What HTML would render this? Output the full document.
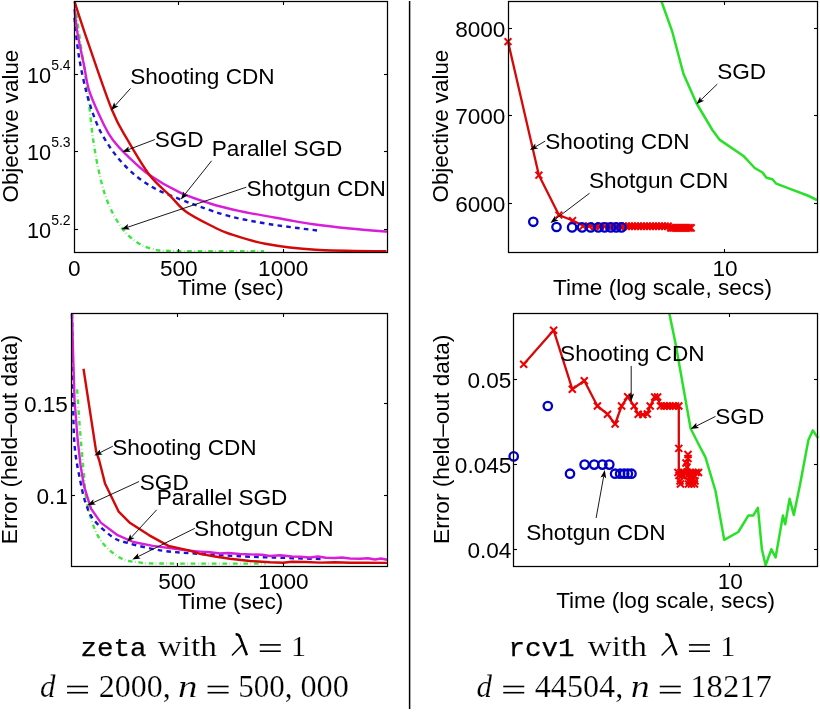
<!DOCTYPE html><html><head><meta charset="utf-8"><style>html,body{margin:0;padding:0;background:#fff;overflow:hidden}svg{display:block;will-change:transform}</style></head><body>
<svg width="820" height="714" viewBox="0 0 820 714">
<rect width="820" height="714" fill="#fff"/>
<line x1="409.6" y1="1" x2="409.6" y2="709" stroke="#000" stroke-width="1.5"/>
<path d="M75.0,3.0 C75.8,9.2 77.9,25.2 80.0,40.0 C82.1,54.8 85.4,75.0 87.6,91.7 C89.8,108.4 91.1,125.9 93.2,140.0 C95.3,154.1 97.5,165.8 100.0,176.5 C102.5,187.2 105.0,195.7 108.5,204.0 C112.0,212.3 116.3,220.1 120.7,226.3 C125.1,232.5 129.8,237.2 135.0,241.0 C140.2,244.8 145.3,247.1 152.0,248.8 C158.7,250.5 156.3,250.6 175.0,251.0 C193.7,251.4 249.2,251.2 264.0,251.3" fill="none" stroke="#3ce63c" stroke-width="2.4" stroke-linejoin="round" stroke-dasharray="4.6,2.6,0.5,2.8"/>
<path d="M74.5,18.0 C75.2,24.2 76.7,42.5 78.7,55.0 C80.7,67.5 83.6,81.6 86.6,93.0 C89.6,104.4 93.4,115.4 96.7,123.4 C100.0,131.5 102.9,135.9 106.2,141.3 C109.5,146.7 112.6,151.2 116.3,155.9 C120.0,160.6 124.3,165.2 128.6,169.3 C132.9,173.4 137.2,177.1 142.1,180.5 C147.0,183.9 151.5,186.9 157.8,190.0 C164.1,193.1 173.1,196.5 180.1,199.3 C187.1,202.1 191.7,203.8 200.0,206.6 C208.3,209.4 218.3,213.4 230.0,216.3 C241.7,219.2 254.8,221.8 270.0,224.2 C285.2,226.6 312.5,229.9 321.0,231.0" fill="none" stroke="#1414d2" stroke-width="2.4" stroke-linejoin="round" stroke-dasharray="4.6,4.2"/>
<path d="M74.5,9.0 C75.0,13.3 76.2,25.7 77.8,35.0 C79.4,44.3 82.0,55.5 84.0,65.0 C86.0,74.5 86.2,81.7 89.5,91.7 C92.8,101.7 100.1,117.0 104.0,125.0 C107.9,133.1 109.2,135.1 112.9,140.0 C116.6,144.9 120.0,148.8 126.1,154.6 C132.2,160.4 140.5,168.8 149.5,175.1 C158.5,181.4 170.1,188.0 180.2,192.7 C190.3,197.4 200.0,200.4 210.0,203.5 C220.0,206.6 227.4,208.4 240.0,211.1 C252.6,213.8 273.2,217.3 285.4,219.5 C297.6,221.7 302.4,222.8 313.2,224.3 C324.0,225.8 337.7,227.3 350.0,228.5 C362.3,229.7 380.8,231.1 387.0,231.6" fill="none" stroke="#d81ed8" stroke-width="2.4" stroke-linejoin="round"/>
<path d="M74.5,1.5 C76.8,8.6 82.2,25.8 88.5,43.9 C94.8,62.0 105.5,94.0 112.0,110.0 C118.5,126.0 121.3,129.2 127.6,140.0 C133.8,150.8 142.4,165.8 149.5,175.1 C156.6,184.4 163.9,189.5 170.0,195.6 C176.1,201.7 179.0,206.6 186.1,211.7 C193.2,216.8 205.1,222.6 212.4,226.3 C219.7,230.0 221.2,231.1 230.0,234.0 C238.8,236.9 250.9,241.1 265.2,243.7 C279.4,246.3 295.3,248.5 315.5,249.8 C335.7,251.1 374.7,251.1 386.5,251.3" fill="none" stroke="#d40808" stroke-width="2.4" stroke-linejoin="round"/>
<rect x="74.5" y="1.5" width="313.0" height="251.0" fill="none" stroke="#000" stroke-width="1.25"/>
<line x1="74.5" y1="74.5" x2="78.0" y2="74.5" stroke="#000" stroke-width="1.1"/>
<line x1="387.5" y1="74.5" x2="384.0" y2="74.5" stroke="#000" stroke-width="1.1"/>
<line x1="74.5" y1="151.5" x2="78.0" y2="151.5" stroke="#000" stroke-width="1.1"/>
<line x1="387.5" y1="151.5" x2="384.0" y2="151.5" stroke="#000" stroke-width="1.1"/>
<line x1="74.5" y1="229.5" x2="78.0" y2="229.5" stroke="#000" stroke-width="1.1"/>
<line x1="387.5" y1="229.5" x2="384.0" y2="229.5" stroke="#000" stroke-width="1.1"/>
<line x1="178.5" y1="1.5" x2="178.5" y2="5.0" stroke="#000" stroke-width="1.1"/>
<line x1="178.5" y1="252.5" x2="178.5" y2="249.0" stroke="#000" stroke-width="1.1"/>
<line x1="283.5" y1="1.5" x2="283.5" y2="5.0" stroke="#000" stroke-width="1.1"/>
<line x1="283.5" y1="252.5" x2="283.5" y2="249.0" stroke="#000" stroke-width="1.1"/>
<text x="27.0" y="83.4" font-size="21.8" text-anchor="start" font-family="Liberation Sans, sans-serif" >10</text>
<text x="51.2" y="69.5" font-size="14" text-anchor="start" font-family="Liberation Sans, sans-serif" >5.4</text>
<text x="27.0" y="160.4" font-size="21.8" text-anchor="start" font-family="Liberation Sans, sans-serif" >10</text>
<text x="51.2" y="146.5" font-size="14" text-anchor="start" font-family="Liberation Sans, sans-serif" >5.3</text>
<text x="27.0" y="238.4" font-size="21.8" text-anchor="start" font-family="Liberation Sans, sans-serif" >10</text>
<text x="51.2" y="224.5" font-size="14" text-anchor="start" font-family="Liberation Sans, sans-serif" >5.2</text>
<text x="74.2" y="276.3" font-size="22.6" text-anchor="middle" font-family="Liberation Sans, sans-serif" >0</text>
<text x="178.8" y="276.3" font-size="22.6" text-anchor="middle" font-family="Liberation Sans, sans-serif" >500</text>
<text x="283.2" y="276.3" font-size="22.6" text-anchor="middle" font-family="Liberation Sans, sans-serif" >1000</text>
<text x="230.75" y="295" font-size="22.6" text-anchor="middle" font-family="Liberation Sans, sans-serif" >Time (sec)</text>
<text x="0" y="0" font-size="22.35" text-anchor="middle" font-family="Liberation Sans, sans-serif" transform="translate(18,126.1) rotate(-90)">Objective value</text>
<text x="130.2" y="83.5" font-size="22.6" text-anchor="start" font-family="Liberation Sans, sans-serif" >Shooting CDN</text>
<text x="154.7" y="147.4" font-size="22.6" text-anchor="start" font-family="Liberation Sans, sans-serif" >SGD</text>
<text x="211.8" y="155.8" font-size="22.6" text-anchor="start" font-family="Liberation Sans, sans-serif" >Parallel SGD</text>
<text x="246.5" y="195.7" font-size="22.6" text-anchor="start" font-family="Liberation Sans, sans-serif" >Shotgun CDN</text>
<line x1="130.5" y1="88.4" x2="115.2" y2="105.5" stroke="#000" stroke-width="0.9"/>
<path d="M111.0,110.2 L114.2,102.3 L115.2,105.5 L118.5,106.2 Z" fill="#000"/>
<line x1="154.9" y1="139.5" x2="128.2" y2="149.7" stroke="#000" stroke-width="0.9"/>
<path d="M122.3,152.0 L128.7,146.4 L128.2,149.7 L130.8,151.8 Z" fill="#000"/>
<line x1="211.6" y1="160.8" x2="184.7" y2="194.6" stroke="#000" stroke-width="0.9"/>
<path d="M180.8,199.5 L183.5,191.4 L184.7,194.6 L188.1,195.0 Z" fill="#000"/>
<line x1="246.3" y1="187.2" x2="127.4" y2="227.3" stroke="#000" stroke-width="0.9"/>
<path d="M121.4,229.3 L128.1,224.0 L127.4,227.3 L129.9,229.5 Z" fill="#000"/>
<polyline points="661.5,1.5 672.0,30.8 683.5,74.0 696.6,103.5 712.4,130.0 719.4,139.6 743.9,156.3 754.7,168.0 762.5,172.5 766.5,177.8 772.4,179.2 776.3,183.7 792.0,189.6 807.6,195.5 817.0,200.0" fill="none" stroke="#28e028" stroke-width="2.5" stroke-linejoin="round" />
<polyline points="508.0,41.6 538.9,175.2 558.9,215.0 572.6,220.5 583.0,225.5 600.0,226.5 640.0,227.0 691.0,227.5" fill="none" stroke="#d80808" stroke-width="2.3" stroke-linejoin="round" />
<path d="M504.6,38.2 L511.4,45.0 M504.6,45.0 L511.4,38.2" stroke="#f00000" stroke-width="2.0"/>
<path d="M535.5,171.8 L542.3,178.6 M535.5,178.6 L542.3,171.8" stroke="#f00000" stroke-width="2.0"/>
<path d="M555.5,211.6 L562.3,218.4 M555.5,218.4 L562.3,211.6" stroke="#f00000" stroke-width="2.0"/>
<path d="M569.2,217.1 L576.0,223.9 M569.2,223.9 L576.0,217.1" stroke="#f00000" stroke-width="2.0"/>
<path d="M579.4,222.6 L586.6,229.8 M579.4,229.8 L586.6,222.6" stroke="#f00000" stroke-width="2.0"/>
<path d="M585.4,222.6 L592.6,229.8 M585.4,229.8 L592.6,222.6" stroke="#f00000" stroke-width="2.0"/>
<path d="M591.4,222.6 L598.6,229.8 M591.4,229.8 L598.6,222.6" stroke="#f00000" stroke-width="2.0"/>
<path d="M596.4,222.6 L603.6,229.8 M596.4,229.8 L603.6,222.6" stroke="#f00000" stroke-width="2.0"/>
<path d="M601.4,222.6 L608.6,229.8 M601.4,229.8 L608.6,222.6" stroke="#f00000" stroke-width="2.0"/>
<path d="M605.4,222.6 L612.6,229.8 M605.4,229.8 L612.6,222.6" stroke="#f00000" stroke-width="2.0"/>
<path d="M609.4,222.6 L616.6,229.8 M609.4,229.8 L616.6,222.6" stroke="#f00000" stroke-width="2.0"/>
<path d="M613.4,222.6 L620.6,229.8 M613.4,229.8 L620.6,222.6" stroke="#f00000" stroke-width="2.0"/>
<path d="M616.4,222.6 L623.6,229.8 M616.4,229.8 L623.6,222.6" stroke="#f00000" stroke-width="2.0"/>
<path d="M619.4,222.6 L626.6,229.8 M619.4,229.8 L626.6,222.6" stroke="#f00000" stroke-width="2.0"/>
<path d="M622.4,222.6 L629.6,229.8 M622.4,229.8 L629.6,222.6" stroke="#f00000" stroke-width="2.0"/>
<path d="M625.4,222.6 L632.6,229.8 M625.4,229.8 L632.6,222.6" stroke="#f00000" stroke-width="2.0"/>
<path d="M628.4,222.6 L635.6,229.8 M628.4,229.8 L635.6,222.6" stroke="#f00000" stroke-width="2.0"/>
<path d="M631.4,222.6 L638.6,229.8 M631.4,229.8 L638.6,222.6" stroke="#f00000" stroke-width="2.0"/>
<path d="M634.4,222.6 L641.6,229.8 M634.4,229.8 L641.6,222.6" stroke="#f00000" stroke-width="2.0"/>
<path d="M637.4,222.6 L644.6,229.8 M637.4,229.8 L644.6,222.6" stroke="#f00000" stroke-width="2.0"/>
<path d="M640.4,222.6 L647.6,229.8 M640.4,229.8 L647.6,222.6" stroke="#f00000" stroke-width="2.0"/>
<path d="M643.4,222.6 L650.6,229.8 M643.4,229.8 L650.6,222.6" stroke="#f00000" stroke-width="2.0"/>
<path d="M646.4,222.6 L653.6,229.8 M646.4,229.8 L653.6,222.6" stroke="#f00000" stroke-width="2.0"/>
<path d="M649.4,222.6 L656.6,229.8 M649.4,229.8 L656.6,222.6" stroke="#f00000" stroke-width="2.0"/>
<path d="M652.4,222.6 L659.6,229.8 M652.4,229.8 L659.6,222.6" stroke="#f00000" stroke-width="2.0"/>
<path d="M655.4,222.6 L662.6,229.8 M655.4,229.8 L662.6,222.6" stroke="#f00000" stroke-width="2.0"/>
<path d="M658.4,222.6 L665.6,229.8 M658.4,229.8 L665.6,222.6" stroke="#f00000" stroke-width="2.0"/>
<path d="M661.4,222.6 L668.6,229.8 M661.4,229.8 L668.6,222.6" stroke="#f00000" stroke-width="2.0"/>
<path d="M664.4,222.6 L671.6,229.8 M664.4,229.8 L671.6,222.6" stroke="#f00000" stroke-width="2.0"/>
<path d="M667.4,224.3 L674.6,231.5 M667.4,231.5 L674.6,224.3" stroke="#f00000" stroke-width="2.0"/>
<path d="M669.4,224.3 L676.6,231.5 M669.4,231.5 L676.6,224.3" stroke="#f00000" stroke-width="2.0"/>
<path d="M671.4,224.3 L678.6,231.5 M671.4,231.5 L678.6,224.3" stroke="#f00000" stroke-width="2.0"/>
<path d="M673.4,224.3 L680.6,231.5 M673.4,231.5 L680.6,224.3" stroke="#f00000" stroke-width="2.0"/>
<path d="M675.4,224.3 L682.6,231.5 M675.4,231.5 L682.6,224.3" stroke="#f00000" stroke-width="2.0"/>
<path d="M677.4,224.3 L684.6,231.5 M677.4,231.5 L684.6,224.3" stroke="#f00000" stroke-width="2.0"/>
<path d="M679.4,224.3 L686.6,231.5 M679.4,231.5 L686.6,224.3" stroke="#f00000" stroke-width="2.0"/>
<path d="M681.4,224.3 L688.6,231.5 M681.4,231.5 L688.6,224.3" stroke="#f00000" stroke-width="2.0"/>
<path d="M683.4,224.3 L690.6,231.5 M683.4,231.5 L690.6,224.3" stroke="#f00000" stroke-width="2.0"/>
<path d="M685.4,224.3 L692.6,231.5 M685.4,231.5 L692.6,224.3" stroke="#f00000" stroke-width="2.0"/>
<path d="M687.4,224.3 L694.6,231.5 M687.4,231.5 L694.6,224.3" stroke="#f00000" stroke-width="2.0"/>
<circle cx="533.3" cy="221.8" r="4.2" fill="none" stroke="#0000c8" stroke-width="2.3"/>
<circle cx="556.5" cy="227" r="4.2" fill="none" stroke="#0000c8" stroke-width="2.3"/>
<circle cx="572.1" cy="227.4" r="4.2" fill="none" stroke="#0000c8" stroke-width="2.3"/>
<circle cx="582.1" cy="227.4" r="4.2" fill="none" stroke="#0000c8" stroke-width="2.3"/>
<circle cx="590.7" cy="227.4" r="4.2" fill="none" stroke="#0000c8" stroke-width="2.3"/>
<circle cx="598.3" cy="227.4" r="4.2" fill="none" stroke="#0000c8" stroke-width="2.3"/>
<circle cx="604.6" cy="227.4" r="4.2" fill="none" stroke="#0000c8" stroke-width="2.3"/>
<circle cx="610.8" cy="227.4" r="4.2" fill="none" stroke="#0000c8" stroke-width="2.3"/>
<circle cx="616.2" cy="227.4" r="4.2" fill="none" stroke="#0000c8" stroke-width="2.3"/>
<circle cx="621.5" cy="227.4" r="4.2" fill="none" stroke="#0000c8" stroke-width="2.3"/>
<rect x="508.5" y="1.5" width="309.0" height="251.0" fill="none" stroke="#000" stroke-width="1.25"/>
<line x1="508.5" y1="28.5" x2="512.0" y2="28.5" stroke="#000" stroke-width="1.1"/>
<line x1="817.5" y1="28.5" x2="814.0" y2="28.5" stroke="#000" stroke-width="1.1"/>
<line x1="508.5" y1="115.5" x2="512.0" y2="115.5" stroke="#000" stroke-width="1.1"/>
<line x1="817.5" y1="115.5" x2="814.0" y2="115.5" stroke="#000" stroke-width="1.1"/>
<line x1="508.5" y1="203.5" x2="512.0" y2="203.5" stroke="#000" stroke-width="1.1"/>
<line x1="817.5" y1="203.5" x2="814.0" y2="203.5" stroke="#000" stroke-width="1.1"/>
<line x1="724.5" y1="1.5" x2="724.5" y2="5.0" stroke="#000" stroke-width="1.1"/>
<line x1="724.5" y1="252.5" x2="724.5" y2="249.0" stroke="#000" stroke-width="1.1"/>
<text x="505.4" y="36.8" font-size="22.6" text-anchor="end" font-family="Liberation Sans, sans-serif" >8000</text>
<text x="505.4" y="123.8" font-size="22.6" text-anchor="end" font-family="Liberation Sans, sans-serif" >7000</text>
<text x="505.4" y="211.8" font-size="22.6" text-anchor="end" font-family="Liberation Sans, sans-serif" >6000</text>
<text x="725.1" y="275.8" font-size="22.6" text-anchor="middle" font-family="Liberation Sans, sans-serif" >10</text>
<text x="662.5" y="295.4" font-size="22.6" text-anchor="middle" font-family="Liberation Sans, sans-serif" >Time (log scale, secs)</text>
<text x="0" y="0" font-size="22.35" text-anchor="middle" font-family="Liberation Sans, sans-serif" transform="translate(447.5,126.1) rotate(-90)">Objective value</text>
<text x="717.2" y="78.7" font-size="22.6" text-anchor="start" font-family="Liberation Sans, sans-serif" >SGD</text>
<line x1="717.3" y1="84.1" x2="700.9" y2="99.9" stroke="#000" stroke-width="0.9"/>
<path d="M696.4,104.3 L700.1,96.7 L700.9,99.9 L704.2,100.8 Z" fill="#000"/>
<text x="545.2" y="149.4" font-size="22.6" text-anchor="start" font-family="Liberation Sans, sans-serif" >Shooting CDN</text>
<line x1="545.2" y1="141.1" x2="535.3" y2="146.9" stroke="#000" stroke-width="0.9"/>
<path d="M529.9,150.1 L535.3,143.5 L535.3,146.9 L538.3,148.5 Z" fill="#000"/>
<text x="588.9" y="187.6" font-size="22.6" text-anchor="start" font-family="Liberation Sans, sans-serif" >Shotgun CDN</text>
<line x1="589.6" y1="193.2" x2="555.4" y2="219.2" stroke="#000" stroke-width="0.9"/>
<path d="M550.4,223.0 L555.0,215.8 L555.4,219.2 L558.5,220.5 Z" fill="#000"/>
<path d="M77.1,389.3 C77.6,396.1 78.9,416.6 80.0,430.0 C81.1,443.4 82.3,457.5 83.5,470.0 C84.7,482.5 84.8,493.6 87.4,504.9 C90.0,516.2 93.7,529.2 99.1,538.0 C104.5,546.8 112.9,553.5 119.6,557.6 C126.3,561.7 132.4,561.4 139.1,562.4 C145.8,563.4 138.9,563.3 160.0,563.5 C181.1,563.7 248.0,563.6 265.6,563.6" fill="none" stroke="#3ce63c" stroke-width="2.4" stroke-linejoin="round" stroke-dasharray="4.6,2.6,0.5,2.8"/>
<path d="M72.0,314.0 C72.1,321.7 72.4,339.0 72.8,360.0 C73.2,381.0 72.9,419.7 74.2,440.0 C75.5,460.3 78.5,471.3 80.5,482.0 C82.5,492.7 83.9,498.1 86.1,504.4 C88.3,510.7 89.5,514.4 93.8,519.8 C98.1,525.2 106.4,532.8 112.0,536.6 C117.6,540.5 119.0,540.5 127.4,542.9 C135.8,545.2 150.5,548.9 162.6,550.7 C174.7,552.5 185.4,552.9 200.0,553.9 C214.6,554.9 229.7,555.9 250.0,556.7 C270.3,557.6 310.0,558.6 322.0,559.0" fill="none" stroke="#1414d2" stroke-width="2.4" stroke-linejoin="round" stroke-dasharray="4.6,4.2"/>
<polyline points="72.0,314.0 73.0,350.0 74.5,400.0 77.7,440.0 80.5,465.0 84.0,486.2 91.0,508.6 100.8,522.6 117.6,535.2 133.3,542.0 152.8,545.9 189.9,550.8 200.0,551.6 210.0,552.3 220.0,553.5 228.0,553.0 240.0,554.0 250.0,554.4 262.0,554.8 270.0,556.0 280.0,555.2 292.0,556.5 300.0,556.7 310.0,557.5 318.0,556.5 326.0,557.8 335.0,558.0 342.0,557.5 350.0,558.5 360.0,558.8 368.0,558.2 375.0,559.5 381.0,558.5 387.0,559.7" fill="none" stroke="#d81ed8" stroke-width="2.4" stroke-linejoin="round" />
<polyline points="83.5,368.8 96.2,451.7 99.1,460.0 105.0,483.4 118.7,511.7 129.4,522.4 148.9,535.1 168.4,545.9 189.9,550.7 200.0,553.9 215.0,556.5 230.0,558.8 250.0,561.0 270.0,562.3 283.0,562.8 292.0,561.8 305.0,562.0 320.0,562.6 335.0,562.2 350.0,562.8 365.0,562.6 387.0,562.9" fill="none" stroke="#d40808" stroke-width="2.4" stroke-linejoin="round" />
<rect x="71.5" y="313.5" width="316.0" height="253.0" fill="none" stroke="#000" stroke-width="1.25"/>
<line x1="71.5" y1="403.5" x2="75.0" y2="403.5" stroke="#000" stroke-width="1.1"/>
<line x1="387.5" y1="403.5" x2="384.0" y2="403.5" stroke="#000" stroke-width="1.1"/>
<line x1="71.5" y1="495.5" x2="75.0" y2="495.5" stroke="#000" stroke-width="1.1"/>
<line x1="387.5" y1="495.5" x2="384.0" y2="495.5" stroke="#000" stroke-width="1.1"/>
<line x1="177.5" y1="313.5" x2="177.5" y2="317.0" stroke="#000" stroke-width="1.1"/>
<line x1="177.5" y1="566.5" x2="177.5" y2="563.0" stroke="#000" stroke-width="1.1"/>
<line x1="283.5" y1="313.5" x2="283.5" y2="317.0" stroke="#000" stroke-width="1.1"/>
<line x1="283.5" y1="566.5" x2="283.5" y2="563.0" stroke="#000" stroke-width="1.1"/>
<text x="67.9" y="411.8" font-size="22.6" text-anchor="end" font-family="Liberation Sans, sans-serif" >0.15</text>
<text x="67.9" y="503.8" font-size="22.6" text-anchor="end" font-family="Liberation Sans, sans-serif" >0.1</text>
<text x="177.1" y="589" font-size="22.6" text-anchor="middle" font-family="Liberation Sans, sans-serif" >500</text>
<text x="283.45" y="589" font-size="22.6" text-anchor="middle" font-family="Liberation Sans, sans-serif" >1000</text>
<text x="230.35" y="608.7" font-size="22.6" text-anchor="middle" font-family="Liberation Sans, sans-serif" >Time (sec)</text>
<text x="0" y="0" font-size="22.7" text-anchor="middle" font-family="Liberation Sans, sans-serif" transform="translate(16.8,439.5) rotate(-90)">Error (held–out data)</text>
<text x="112.2" y="455" font-size="22.6" text-anchor="start" font-family="Liberation Sans, sans-serif" >Shooting CDN</text>
<line x1="112.8" y1="446.2" x2="99.9" y2="452.7" stroke="#000" stroke-width="0.9"/>
<path d="M94.3,455.6 L100.1,449.4 L99.9,452.7 L102.7,454.6 Z" fill="#000"/>
<text x="139.8" y="489.6" font-size="22.6" text-anchor="start" font-family="Liberation Sans, sans-serif" >SGD</text>
<line x1="139.1" y1="481.5" x2="93.1" y2="502.7" stroke="#000" stroke-width="0.9"/>
<path d="M87.4,505.3 L93.5,499.3 L93.1,502.7 L95.9,504.6 Z" fill="#000"/>
<text x="156.8" y="504.5" font-size="22.6" text-anchor="start" font-family="Liberation Sans, sans-serif" >Parallel SGD</text>
<line x1="156.7" y1="509.8" x2="131.3" y2="537.4" stroke="#000" stroke-width="0.9"/>
<path d="M127.0,542.0 L130.3,534.2 L131.3,537.4 L134.6,538.1 Z" fill="#000"/>
<text x="194.1" y="536.1" font-size="22.6" text-anchor="start" font-family="Liberation Sans, sans-serif" >Shotgun CDN</text>
<line x1="194.8" y1="528.3" x2="137.9" y2="556.7" stroke="#000" stroke-width="0.9"/>
<path d="M132.3,559.5 L138.2,553.3 L137.9,556.7 L140.8,558.5 Z" fill="#000"/>
<polyline points="669.4,313.8 675.3,342.3 680.2,369.7 690.6,428.5 699.5,446.0 705.5,457.3 715.5,491.0 724.2,539.8 738.3,532.0 748.3,515.6 753.2,515.6 757.9,507.8 761.9,549.3 765.6,565.3 771.4,549.3 775.6,557.5 782.9,515.6 785.2,524.2 789.6,498.7 793.8,515.0 800.2,483.7 808.4,440.0 812.8,430.4 818.0,438.0" fill="none" stroke="#28e028" stroke-width="2.5" stroke-linejoin="round" />
<polyline points="523.7,364.3 553.6,330.2 572.3,389.2 584.3,380.7 597.4,406.0 607.5,414.2 615.1,424.0 621.6,406.0 627.7,396.8 634.2,406.0 638.2,414.2 642.9,414.6 647.3,414.0 650.2,406.0 654.7,397.0 657.6,397.0 660.5,406.0 664.0,406.0 667.0,406.0 670.0,406.0 673.0,406.0 675.5,406.0 678.8,406.0 678.8,448.4 678.8,471.0" fill="none" stroke="#d80808" stroke-width="2.3" stroke-linejoin="round" />
<path d="M520.2,360.8 L527.2,367.8 M520.2,367.8 L527.2,360.8" stroke="#f00000" stroke-width="2.0"/>
<path d="M550.1,326.7 L557.1,333.7 M550.1,333.7 L557.1,326.7" stroke="#f00000" stroke-width="2.0"/>
<path d="M568.8,385.7 L575.8,392.7 M568.8,392.7 L575.8,385.7" stroke="#f00000" stroke-width="2.0"/>
<path d="M580.8,377.2 L587.8,384.2 M580.8,384.2 L587.8,377.2" stroke="#f00000" stroke-width="2.0"/>
<path d="M593.9,402.5 L600.9,409.5 M593.9,409.5 L600.9,402.5" stroke="#f00000" stroke-width="2.0"/>
<path d="M604.0,410.7 L611.0,417.7 M604.0,417.7 L611.0,410.7" stroke="#f00000" stroke-width="2.0"/>
<path d="M611.6,420.5 L618.6,427.5 M611.6,427.5 L618.6,420.5" stroke="#f00000" stroke-width="2.0"/>
<path d="M618.1,402.5 L625.1,409.5 M618.1,409.5 L625.1,402.5" stroke="#f00000" stroke-width="2.0"/>
<path d="M624.2,393.3 L631.2,400.3 M624.2,400.3 L631.2,393.3" stroke="#f00000" stroke-width="2.0"/>
<path d="M630.7,402.5 L637.7,409.5 M630.7,409.5 L637.7,402.5" stroke="#f00000" stroke-width="2.0"/>
<path d="M634.7,410.7 L641.7,417.7 M634.7,417.7 L641.7,410.7" stroke="#f00000" stroke-width="2.0"/>
<path d="M639.4,411.1 L646.4,418.1 M639.4,418.1 L646.4,411.1" stroke="#f00000" stroke-width="2.0"/>
<path d="M643.8,410.5 L650.8,417.5 M643.8,417.5 L650.8,410.5" stroke="#f00000" stroke-width="2.0"/>
<path d="M646.7,402.5 L653.7,409.5 M646.7,409.5 L653.7,402.5" stroke="#f00000" stroke-width="2.0"/>
<path d="M651.2,393.5 L658.2,400.5 M651.2,400.5 L658.2,393.5" stroke="#f00000" stroke-width="2.0"/>
<path d="M654.1,393.5 L661.1,400.5 M654.1,400.5 L661.1,393.5" stroke="#f00000" stroke-width="2.0"/>
<path d="M657.0,402.5 L664.0,409.5 M657.0,409.5 L664.0,402.5" stroke="#f00000" stroke-width="2.0"/>
<path d="M660.5,402.5 L667.5,409.5 M660.5,409.5 L667.5,402.5" stroke="#f00000" stroke-width="2.0"/>
<path d="M663.5,402.5 L670.5,409.5 M663.5,409.5 L670.5,402.5" stroke="#f00000" stroke-width="2.0"/>
<path d="M666.5,402.5 L673.5,409.5 M666.5,409.5 L673.5,402.5" stroke="#f00000" stroke-width="2.0"/>
<path d="M669.5,402.5 L676.5,409.5 M669.5,409.5 L676.5,402.5" stroke="#f00000" stroke-width="2.0"/>
<path d="M672.0,402.5 L679.0,409.5 M672.0,409.5 L679.0,402.5" stroke="#f00000" stroke-width="2.0"/>
<path d="M675.3,402.5 L682.3,409.5 M675.3,409.5 L682.3,402.5" stroke="#f00000" stroke-width="2.0"/>
<path d="M675.3,444.9 L682.3,451.9 M675.3,451.9 L682.3,444.9" stroke="#f00000" stroke-width="2.0"/>
<polyline points="688.0,454.5 688.0,471.0 698.0,472.5" fill="none" stroke="#f00000" stroke-width="2.0" stroke-linejoin="round" />
<polyline points="678.8,471.0 690.0,482.0 695.0,483.5" fill="none" stroke="#f00000" stroke-width="2.0" stroke-linejoin="round" />
<path d="M684.5,451.0 L691.5,458.0 M684.5,458.0 L691.5,451.0" stroke="#f00000" stroke-width="2.0"/>
<path d="M684.5,455.0 L691.5,462.0 M684.5,462.0 L691.5,455.0" stroke="#f00000" stroke-width="2.0"/>
<path d="M682.5,459.5 L689.5,466.5 M682.5,466.5 L689.5,459.5" stroke="#f00000" stroke-width="2.0"/>
<path d="M683.5,463.5 L690.5,470.5 M683.5,470.5 L690.5,463.5" stroke="#f00000" stroke-width="2.0"/>
<path d="M674.5,469.0 L681.5,476.0 M674.5,476.0 L681.5,469.0" stroke="#f00000" stroke-width="2.0"/>
<path d="M677.5,469.0 L684.5,476.0 M677.5,476.0 L684.5,469.0" stroke="#f00000" stroke-width="2.0"/>
<path d="M680.5,469.0 L687.5,476.0 M680.5,476.0 L687.5,469.0" stroke="#f00000" stroke-width="2.0"/>
<path d="M683.5,469.0 L690.5,476.0 M683.5,476.0 L690.5,469.0" stroke="#f00000" stroke-width="2.0"/>
<path d="M686.5,469.0 L693.5,476.0 M686.5,476.0 L693.5,469.0" stroke="#f00000" stroke-width="2.0"/>
<path d="M689.5,469.0 L696.5,476.0 M689.5,476.0 L696.5,469.0" stroke="#f00000" stroke-width="2.0"/>
<path d="M692.5,469.0 L699.5,476.0 M692.5,476.0 L699.5,469.0" stroke="#f00000" stroke-width="2.0"/>
<path d="M695.0,469.0 L702.0,476.0 M695.0,476.0 L702.0,469.0" stroke="#f00000" stroke-width="2.0"/>
<path d="M675.5,472.0 L682.5,479.0 M675.5,479.0 L682.5,472.0" stroke="#f00000" stroke-width="2.0"/>
<path d="M678.5,472.0 L685.5,479.0 M678.5,479.0 L685.5,472.0" stroke="#f00000" stroke-width="2.0"/>
<path d="M684.5,472.0 L691.5,479.0 M684.5,479.0 L691.5,472.0" stroke="#f00000" stroke-width="2.0"/>
<path d="M687.5,472.0 L694.5,479.0 M687.5,479.0 L694.5,472.0" stroke="#f00000" stroke-width="2.0"/>
<path d="M690.5,472.0 L697.5,479.0 M690.5,479.0 L697.5,472.0" stroke="#f00000" stroke-width="2.0"/>
<path d="M676.5,477.5 L683.5,484.5 M676.5,484.5 L683.5,477.5" stroke="#f00000" stroke-width="2.0"/>
<path d="M685.5,477.5 L692.5,484.5 M685.5,484.5 L692.5,477.5" stroke="#f00000" stroke-width="2.0"/>
<path d="M688.5,477.5 L695.5,484.5 M688.5,484.5 L695.5,477.5" stroke="#f00000" stroke-width="2.0"/>
<path d="M691.5,477.5 L698.5,484.5 M691.5,484.5 L698.5,477.5" stroke="#f00000" stroke-width="2.0"/>
<path d="M677.0,480.5 L684.0,487.5 M677.0,487.5 L684.0,480.5" stroke="#f00000" stroke-width="2.0"/>
<path d="M685.0,480.5 L692.0,487.5 M685.0,487.5 L692.0,480.5" stroke="#f00000" stroke-width="2.0"/>
<path d="M688.0,480.5 L695.0,487.5 M688.0,487.5 L695.0,480.5" stroke="#f00000" stroke-width="2.0"/>
<path d="M691.0,480.5 L698.0,487.5 M691.0,487.5 L698.0,480.5" stroke="#f00000" stroke-width="2.0"/>
<circle cx="513.7" cy="456.4" r="4.2" fill="none" stroke="#0000c8" stroke-width="2.3"/>
<circle cx="547.8" cy="406" r="4.2" fill="none" stroke="#0000c8" stroke-width="2.3"/>
<circle cx="570" cy="473.7" r="4.2" fill="none" stroke="#0000c8" stroke-width="2.3"/>
<circle cx="584.6" cy="464.6" r="4.2" fill="none" stroke="#0000c8" stroke-width="2.3"/>
<circle cx="594.2" cy="464.6" r="4.2" fill="none" stroke="#0000c8" stroke-width="2.3"/>
<circle cx="602.4" cy="464.6" r="4.2" fill="none" stroke="#0000c8" stroke-width="2.3"/>
<circle cx="609.3" cy="464.6" r="4.2" fill="none" stroke="#0000c8" stroke-width="2.3"/>
<circle cx="615.1" cy="473.7" r="4.2" fill="none" stroke="#0000c8" stroke-width="2.3"/>
<circle cx="620.1" cy="473.7" r="4.2" fill="none" stroke="#0000c8" stroke-width="2.3"/>
<circle cx="624.2" cy="473.7" r="4.2" fill="none" stroke="#0000c8" stroke-width="2.3"/>
<circle cx="627.9" cy="473.7" r="4.2" fill="none" stroke="#0000c8" stroke-width="2.3"/>
<circle cx="631.5" cy="473.7" r="4.2" fill="none" stroke="#0000c8" stroke-width="2.3"/>
<rect x="513.5" y="313.5" width="304.0" height="253.0" fill="none" stroke="#000" stroke-width="1.25"/>
<line x1="513.5" y1="379.5" x2="517.0" y2="379.5" stroke="#000" stroke-width="1.1"/>
<line x1="817.5" y1="379.5" x2="814.0" y2="379.5" stroke="#000" stroke-width="1.1"/>
<line x1="513.5" y1="464.5" x2="517.0" y2="464.5" stroke="#000" stroke-width="1.1"/>
<line x1="817.5" y1="464.5" x2="814.0" y2="464.5" stroke="#000" stroke-width="1.1"/>
<line x1="513.5" y1="549.5" x2="517.0" y2="549.5" stroke="#000" stroke-width="1.1"/>
<line x1="817.5" y1="549.5" x2="814.0" y2="549.5" stroke="#000" stroke-width="1.1"/>
<line x1="729.5" y1="313.5" x2="729.5" y2="317.0" stroke="#000" stroke-width="1.1"/>
<line x1="729.5" y1="566.5" x2="729.5" y2="563.0" stroke="#000" stroke-width="1.1"/>
<text x="511.4" y="387.8" font-size="22.6" text-anchor="end" font-family="Liberation Sans, sans-serif" >0.05</text>
<text x="511.4" y="472.8" font-size="22.6" text-anchor="end" font-family="Liberation Sans, sans-serif" >0.045</text>
<text x="511.4" y="557.8" font-size="22.6" text-anchor="end" font-family="Liberation Sans, sans-serif" >0.04</text>
<text x="730.2" y="589" font-size="22.6" text-anchor="middle" font-family="Liberation Sans, sans-serif" >10</text>
<text x="665.6" y="608.2" font-size="22.6" text-anchor="middle" font-family="Liberation Sans, sans-serif" >Time (log scale, secs)</text>
<text x="0" y="0" font-size="22.7" text-anchor="middle" font-family="Liberation Sans, sans-serif" transform="translate(448.7,439.3) rotate(-90)">Error (held–out data)</text>
<text x="560.1" y="360.5" font-size="22.6" text-anchor="start" font-family="Liberation Sans, sans-serif" >Shooting CDN</text>
<line x1="631.2" y1="366" x2="631.2" y2="395.2" stroke="#000" stroke-width="0.9"/>
<path d="M631.2,401.5 L628.3,393.5 L631.2,395.2 L634.1,393.5 Z" fill="#000"/>
<text x="715.3" y="423.7" font-size="22.6" text-anchor="start" font-family="Liberation Sans, sans-serif" >SGD</text>
<line x1="715.5" y1="416.4" x2="696.2" y2="426.1" stroke="#000" stroke-width="0.9"/>
<path d="M690.6,428.9 L696.4,422.7 L696.2,426.1 L699.1,427.9 Z" fill="#000"/>
<text x="526.2" y="539.6" font-size="22.6" text-anchor="start" font-family="Liberation Sans, sans-serif" >Shotgun CDN</text>
<line x1="596.1" y1="518" x2="603.7" y2="476.3" stroke="#000" stroke-width="0.9"/>
<path d="M604.8,470.1 L606.2,478.5 L603.7,476.3 L600.5,477.5 Z" fill="#000"/>
<text x="80.6" y="655.6" font-size="26" font-family="Liberation Mono, monospace" stroke="#000" stroke-width="0.25" textLength="66" lengthAdjust="spacingAndGlyphs">zeta</text>
<text x="157.7" y="655.6" font-size="30" font-family="Liberation Serif, serif" textLength="59.4" lengthAdjust="spacingAndGlyphs" stroke="#fff" stroke-width="0.2">with</text>
<text x="291" y="655.6" font-size="30" font-family="Liberation Serif, serif" stroke="#fff" stroke-width="0.2">1</text>
<text x="40" y="697.4" font-size="31" font-family="Liberation Serif, serif" font-style="italic" stroke="#fff" stroke-width="0.2">d</text>
<text x="98.8" y="697.4" font-size="31" font-family="Liberation Serif, serif" textLength="71.9" lengthAdjust="spacingAndGlyphs" stroke="#fff" stroke-width="0.2">2000,</text>
<text x="178" y="697.4" font-size="31" font-family="Liberation Serif, serif" font-style="italic" textLength="19.5" lengthAdjust="spacingAndGlyphs" stroke="#fff" stroke-width="0.2">n</text>
<text x="238.3" y="697.4" font-size="31" font-family="Liberation Serif, serif" stroke="#fff" stroke-width="0.2">500,</text>
<text x="300.4" y="697.4" font-size="31" font-family="Liberation Serif, serif" textLength="48.5" lengthAdjust="spacingAndGlyphs" stroke="#fff" stroke-width="0.2">000</text>
<text x="508.6" y="655.6" font-size="26" font-family="Liberation Mono, monospace" stroke="#000" stroke-width="0.25" textLength="66" lengthAdjust="spacingAndGlyphs">rcv1</text>
<text x="587.7" y="655.6" font-size="30" font-family="Liberation Serif, serif" textLength="59.4" lengthAdjust="spacingAndGlyphs" stroke="#fff" stroke-width="0.2">with</text>
<text x="720.3" y="655.6" font-size="30" font-family="Liberation Serif, serif" stroke="#fff" stroke-width="0.2">1</text>
<text x="476.6" y="697.4" font-size="31" font-family="Liberation Serif, serif" font-style="italic" stroke="#fff" stroke-width="0.2">d</text>
<text x="534.7" y="697.4" font-size="31" font-family="Liberation Serif, serif" textLength="88.6" lengthAdjust="spacingAndGlyphs" stroke="#fff" stroke-width="0.2">44504,</text>
<text x="630.8" y="697.4" font-size="31" font-family="Liberation Serif, serif" font-style="italic" textLength="19" lengthAdjust="spacingAndGlyphs" stroke="#fff" stroke-width="0.2">n</text>
<text x="690.3" y="697.4" font-size="31" font-family="Liberation Serif, serif" textLength="81.6" lengthAdjust="spacingAndGlyphs" stroke="#fff" stroke-width="0.2">18217</text>
<rect x="259.75" y="644.10" width="21" height="1.6" fill="#000"/>
<rect x="259.75" y="650.40" width="21" height="1.6" fill="#000"/>
<rect x="688.95" y="644.10" width="21" height="1.6" fill="#000"/>
<rect x="688.95" y="650.40" width="21" height="1.6" fill="#000"/>
<rect x="67.05" y="685.70" width="21" height="1.6" fill="#000"/>
<rect x="67.05" y="691.90" width="21" height="1.6" fill="#000"/>
<rect x="207.60" y="685.70" width="21" height="1.6" fill="#000"/>
<rect x="207.60" y="691.90" width="21" height="1.6" fill="#000"/>
<rect x="503.25" y="685.70" width="21" height="1.6" fill="#000"/>
<rect x="503.25" y="691.90" width="21" height="1.6" fill="#000"/>
<rect x="659.75" y="685.70" width="21" height="1.6" fill="#000"/>
<rect x="659.75" y="691.90" width="21" height="1.6" fill="#000"/>
<g transform="translate(0,0)"><path d="M235.6,634.3 C237.8,634.2 239.4,635.2 240.2,637.6 L246.9,655.2" fill="none" stroke="#000" stroke-width="2.5" stroke-linecap="butt"/><path d="M241.6,645.6 L232.4,655.0" fill="none" stroke="#000" stroke-width="1.5" stroke-linecap="round"/></g>
<g transform="translate(429.7,0)"><path d="M235.6,634.3 C237.8,634.2 239.4,635.2 240.2,637.6 L246.9,655.2" fill="none" stroke="#000" stroke-width="2.5" stroke-linecap="butt"/><path d="M241.6,645.6 L232.4,655.0" fill="none" stroke="#000" stroke-width="1.5" stroke-linecap="round"/></g>
</svg></body></html>
